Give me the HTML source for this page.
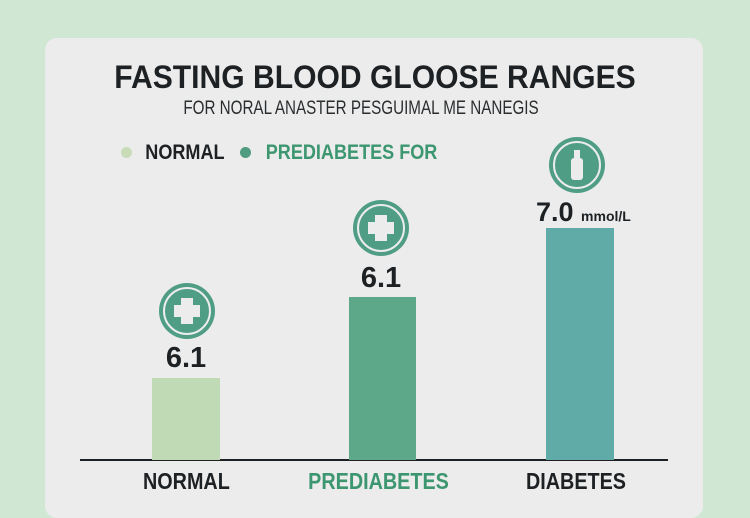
<!DOCTYPE html>
<html><head><style>
body{margin:0;width:750px;height:500px;background:#cfe7d3;overflow:hidden;font-family:"Liberation Sans",sans-serif}
.card{position:absolute;left:45px;top:38px;width:658px;height:480px;background:#ececec;border-radius:12px}
.t{position:absolute;left:0;width:750px;text-align:center;color:#1d2124;font-weight:bold}
.n{font-weight:bold;position:absolute;text-align:center;transform:scaleX(0.86);white-space:nowrap}
.bar{position:absolute}
</style></head><body>
<div class="card"></div>
<div class="t" style="top:59px;font-size:32px;transform:scaleX(0.94)">FASTING BLOOD GLOOSE RANGES</div>
<div class="t" style="top:98px;font-size:19px;font-weight:normal;color:#2a2d2f;transform:scaleX(0.8);left:-14px">FOR NORAL ANASTER PESGUIMAL ME NANEGIS</div>
<div style="position:absolute;left:121px;top:147px;width:11px;height:11px;border-radius:50%;background:#c8dcb8"></div>
<div class="n" style="left:139px;width:90px;top:141px;font-size:21px;color:#1d2124">NORMAL</div>
<div style="position:absolute;left:240px;top:147px;width:11px;height:11px;border-radius:50%;background:#4f9c80"></div>
<div class="n" style="left:253px;width:182px;top:141px;font-size:21px;color:#3c9670">PREDIABETES FOR</div>

<svg width="750" height="500" style="position:absolute;left:0;top:0">
<g fill="#4f9d84" stroke="none">
<circle cx="187" cy="311" r="28"/><circle cx="381" cy="228" r="28"/><circle cx="577" cy="165" r="28"/>
</g>
<g fill="none" stroke="#ececec" stroke-width="2">
<circle cx="187" cy="311" r="23"/><circle cx="381" cy="228" r="23"/><circle cx="577" cy="165" r="23"/>
</g>
<g fill="#ececec">
<path d="M181 298h12v7h7v12h-7v7h-12v-7h-7v-12h7z"/>
<path d="M375 215h12v7h7v12h-7v7h-12v-7h-7v-12h7z"/>
<rect x="571" y="158" width="12" height="22" rx="3"/><rect x="574" y="150" width="6" height="8"/>
</g>
<line x1="80" y1="460" x2="668" y2="460" stroke="#1d2124" stroke-width="2"/>
</svg>
<div class="bar" style="left:152px;top:378px;width:68px;height:82px;background:#c0dab5"></div>
<div class="bar" style="left:349px;top:297px;width:67px;height:163px;background:#5ea88a"></div>
<div class="bar" style="left:546px;top:228px;width:68px;height:232px;background:#60aaa8"></div>
<div class="t" style="left:-189px;top:342px;font-size:29px">6.1</div>
<div class="t" style="left:6px;top:262px;font-size:29px">6.1</div>
<div style="position:absolute;left:536px;top:197px;font-weight:bold;font-size:27px;color:#1d2124">7.0 <span style="font-size:14px">mmol/L</span></div>
<div class="n" style="left:136px;width:100px;top:468px;font-size:23px;color:#1d2124">NORMAL</div>
<div class="n" style="left:296px;width:165px;top:468px;font-size:23px;color:#3c9670">PREDIABETES</div>
<div class="n" style="left:511px;width:130px;top:468px;font-size:23px;color:#1d2124">DIABETES</div>
</body></html>
